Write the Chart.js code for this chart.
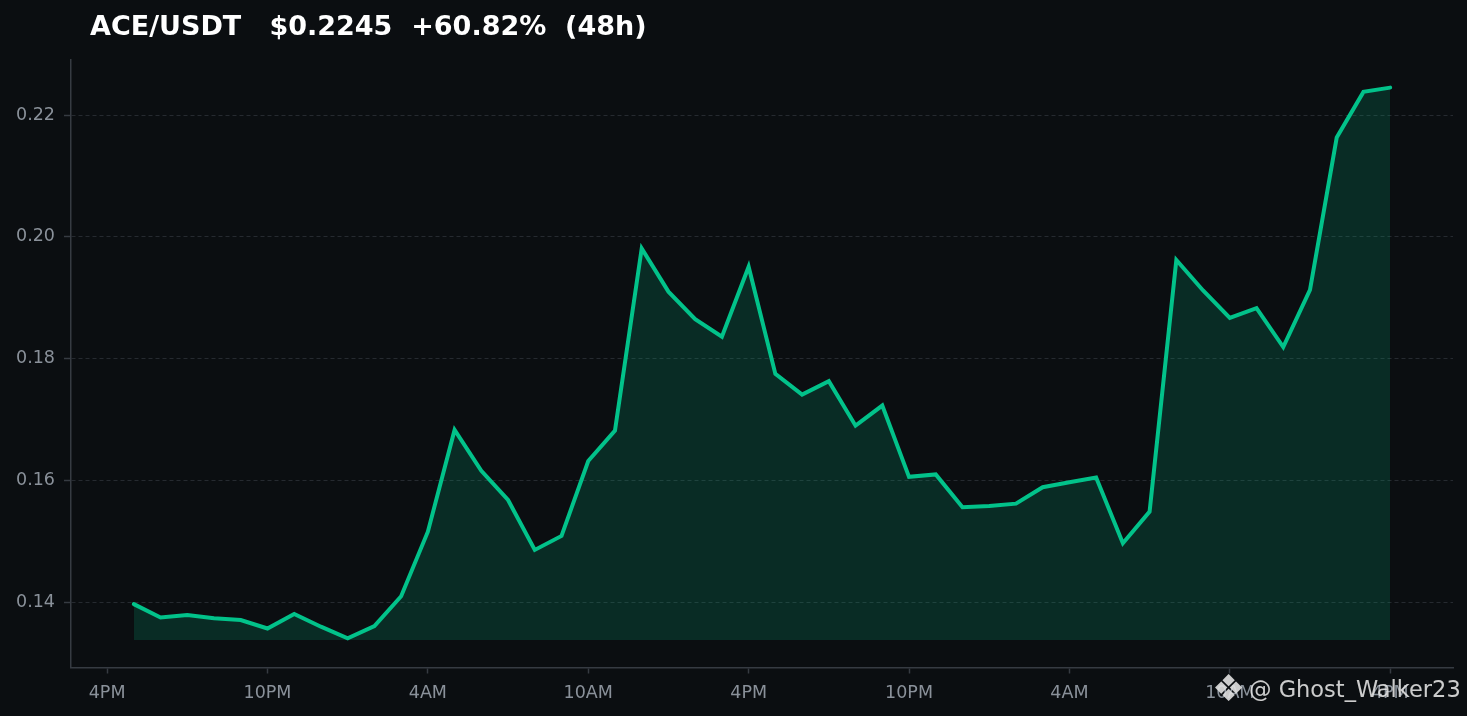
<!DOCTYPE html>
<html>
<head>
<meta charset="utf-8">
<script src="https://cdn.jsdelivr.net/npm/chart.js@4/dist/chart.umd.min.js"></script>
<style>
  html, body { margin: 0; padding: 0; background: #0b0e11; }
  #wrap { position: relative; width: 1467px; height: 716px; overflow: hidden; background: #0b0e11; }
  #title { position: absolute; left: 90px; top: 12px; font: bold 27px "DejaVu Sans"; line-height: 27px; color: #ffffff; white-space: pre; }
  #mark { position: absolute; left: 1249px; top: 678px; font: 22.5px "DejaVu Sans"; line-height: 23px; color: rgba(225,225,225,0.9); white-space: pre; }
  #icon { position: absolute; left: 1212px; top: 670px; font: 37px "DejaVu Sans"; line-height: 37px; color: rgba(225,225,225,0.9); }
</style>
</head>
<body>
<div id="wrap">
  <canvas id="chart" width="1467" height="716"></canvas>
  <div id="title">ACE/USDT   $0.2245  +60.82%  (48h)</div>
  <div id="icon">❖</div>
  <div id="mark">@ Ghost_Walker23</div>
</div>
<script>
// hourly close, 5PM day 1 .. 4PM day 3
const prices = [
  0.1397, 0.1375, 0.1379, 0.1374, 0.1371, 0.1357, 0.1381, 0.1360,
  0.1341, 0.1361, 0.1410, 0.1516, 0.1683, 0.1616, 0.1568, 0.1486,
  0.1509, 0.1632, 0.1682, 0.1981, 0.1910, 0.1865, 0.1836, 0.1951,
  0.1775, 0.1741, 0.1763, 0.1690, 0.1723, 0.1606, 0.1610, 0.1556,
  0.1558, 0.1562, 0.1589, 0.1597, 0.1605, 0.1497, 0.1549, 0.1962,
  0.1912, 0.1867, 0.1883, 0.1819, 0.1913, 0.2163, 0.2238, 0.2245
];
const xTickHours = [0, 6, 12, 18, 24, 30, 36, 42, 48];
const xTickLabels = ['4PM', '10PM', '4AM', '10AM', '4PM', '10PM', '4AM', '10AM', '4PM'];
const yTickValues = [0.14, 0.16, 0.18, 0.20, 0.22];
const yTickLabels = ['0.14', '0.16', '0.18', '0.20', '0.22'];

const green = '#02c28a';
const tickText = '#8a919a';
const spine = '#363b42';

const points = prices.map((v, i) => ({ x: i + 1, y: v }));
const fillBase = Math.min(...prices) * 0.998;
const yPad = (Math.max(...prices) - fillBase) * 0.05;
const xPad = (prices.length - 1) * 0.05;

new Chart(document.getElementById('chart'), {
  type: 'line',
  data: {
    datasets: [{
      data: points,
      borderColor: green,
      borderWidth: 4,
      backgroundColor: 'rgba(2,194,138,0.17)',
      fill: { value: fillBase },
      pointRadius: 0,
      tension: 0,
      borderCapStyle: 'round',
      borderJoinStyle: 'miter'
    }]
  },
  options: {
    responsive: false,
    animation: false,
    devicePixelRatio: 1,
    layout: { padding: { top: 60, right: 14, left: 0, bottom: 0 } },
    plugins: { legend: { display: false }, tooltip: { enabled: false } },
    scales: {
      x: {
        type: 'linear',
        min: 1 - xPad,
        max: prices.length + xPad,
        afterBuildTicks: s => { s.ticks = xTickHours.map(v => ({ value: v })); },
        afterFit: s => { s.height = 48.5; },
        ticks: {
          autoSkip: false,
          maxRotation: 0,
          color: tickText,
          padding: 9,
          font: { family: 'DejaVu Sans', size: 17.5 },
          callback: (v, i) => xTickLabels[i]
        },
        grid: { drawOnChartArea: false, drawTicks: true, tickLength: 6, tickColor: spine, tickWidth: 1.5 },
        border: { color: spine, width: 1.5 }
      },
      y: {
        type: 'linear',
        min: fillBase - yPad,
        max: Math.max(...prices) + yPad,
        afterBuildTicks: s => { s.ticks = yTickValues.map(v => ({ value: v })); },
        afterFit: s => { s.width = 71; },
        ticks: {
          color: tickText,
          padding: 9,
          font: { family: 'DejaVu Sans', size: 17.5 },
          callback: (v, i) => yTickLabels[i]
        },
        grid: { color: '#262a30', lineWidth: 1, drawTicks: true, tickLength: 7, tickColor: spine, tickWidth: 1.5, tickBorderDash: [] },
        border: { color: spine, width: 1.5, dash: [4, 3] }
      }
    }
  }
});
</script>
</body>
</html>
